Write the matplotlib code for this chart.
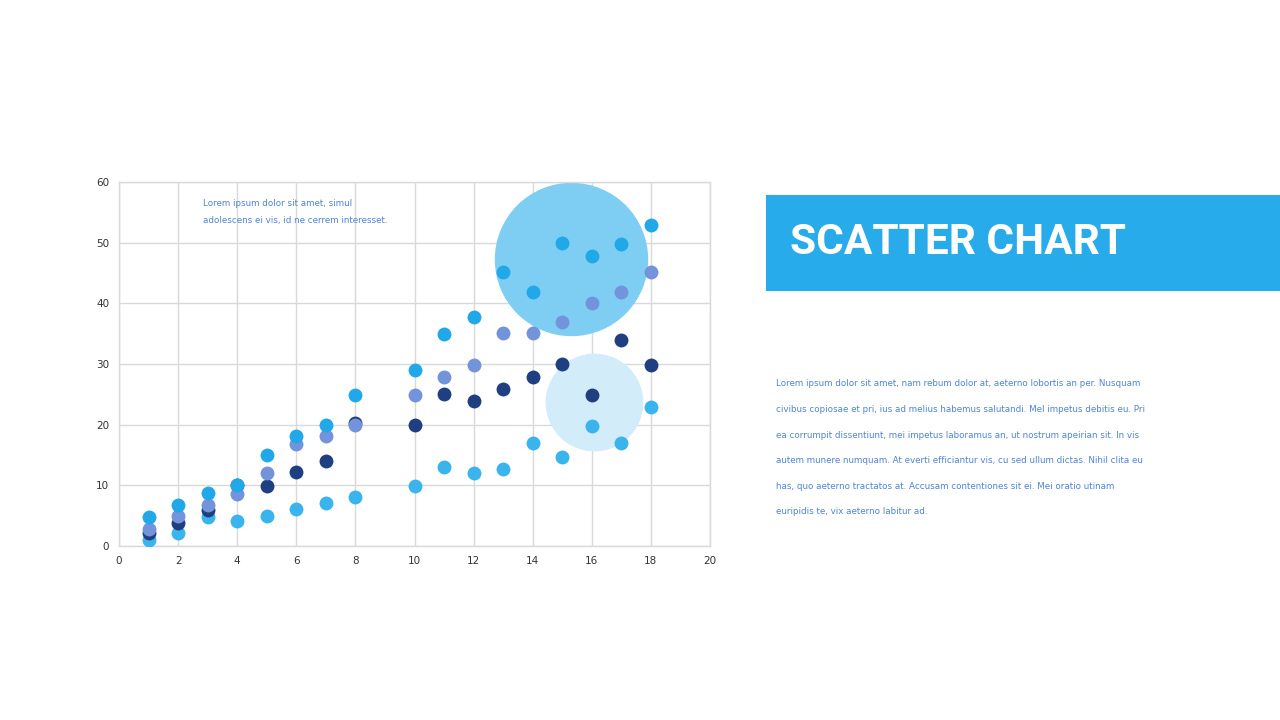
import matplotlib
matplotlib.use("Agg")
import matplotlib.pyplot as plt
from matplotlib.patches import Rectangle

# ---- data ----
xs = [1, 2, 3, 4, 5, 6, 7, 8, 10, 11, 12, 13, 14, 15, 16, 17, 18]
series_bright = [4.8, 6.8, 8.7, 10.0, 15.0, 18.1, 19.9, 24.9, 29.0, 34.9, 37.7, 45.2, 41.9, 49.9, 47.8, 49.8, 52.9]
series_light = [1.0, 2.1, 4.8, 4.1, 4.9, 6.1, 7.1, 8.1, 9.9, 13.0, 12.0, 12.7, 17.0, 14.7, 19.8, 17.0, 22.9]
series_navy = [2.1, 3.8, 5.9, 10.1, 9.9, 12.2, 14.0, 20.3, 19.9, 25.1, 23.9, 25.9, 27.9, 30.0, 24.9, 34.0, 29.8]
series_peri = [2.8, 4.9, 6.8, 8.6, 12.0, 16.8, 18.1, 19.9, 24.9, 27.9, 29.8, 35.1, 35.1, 36.9, 40.1, 41.9, 45.2]
bubble_x = [15.3, 16.07]
bubble_y = [47.3, 23.7]
bubble_size = [12200, 4950]

x_ticks = [0, 2, 4, 6, 8, 10, 12, 14, 16, 18, 20]
y_ticks = [0, 10, 20, 30, 40, 50, 60]

title = "SCATTER CHART"
note_lines = ["Lorem ipsum dolor sit amet, simul", "adolescens ei vis, id ne cerrem interesset."]
para_lines = [
    "Lorem ipsum dolor sit amet, nam rebum dolor at, aeterno lobortis an per. Nusquam",
    "civibus copiosae et pri, ius ad melius habemus salutandi. Mel impetus debitis eu. Pri",
    "ea corrumpit dissentiunt, mei impetus laboramus an, ut nostrum apeirian sit. In vis",
    "autem munere numquam. At everti efficiantur vis, cu sed ullum dictas. Nihil clita eu",
    "has, quo aeterno tractatos at. Accusam contentiones sit ei. Mei oratio utinam",
    "euripidis te, vix aeterno labitur ad.",
]

text_color = "#4F84D4"

fig = plt.figure(figsize=(12.8, 7.2), dpi=100)
fig.patch.set_facecolor("white")

ax = fig.add_axes([119/1280, 1-546/720, (710-119)/1280, (546-182)/720])
ax.set_xlim(0, 20)
ax.set_ylim(0, 60)
ax.set_xticks(x_ticks)
ax.set_yticks(y_ticks)
ax.grid(True, color="#D9D9D9", linewidth=1.0, zorder=0)
ax.set_axisbelow(True)
for s in ax.spines.values():
    s.set_color("#D9D9D9")
    s.set_linewidth(1.0)
ax.tick_params(length=0, labelsize=7.5, colors="#333333", pad=7)

ax.scatter(bubble_x[0], bubble_y[0], s=bubble_size[0], color="#7ECDF3", zorder=1, linewidths=0)
ax.scatter(bubble_x[1], bubble_y[1], s=bubble_size[1], color="#D3ECF9", zorder=1, linewidths=0)

ms = 100
ax.scatter(xs, series_light, s=ms, color="#3AB4EC", zorder=3, linewidths=0)
ax.scatter(xs, series_navy, s=ms, color="#1F3F80", zorder=4, linewidths=0)
ax.scatter(xs, series_peri, s=ms, color="#7393DA", zorder=5, linewidths=0)
ax.scatter(xs, series_bright, s=ms, color="#21A8E9", zorder=6, linewidths=0)

# note inside chart
for i, line in enumerate(note_lines):
    fig.text(203/1280, 1-(204+16*i)/720, line, fontsize=6.3, color=text_color,
             va="center", ha="left")

# banner
fig.patches.append(Rectangle((766/1280, 1-291/720), (1280-766)/1280, 96/720,
                             transform=fig.transFigure, facecolor="#27ABEA",
                             edgecolor="none", zorder=0))
fig.text(790/1280, 1-242/720, title, fontsize=30.5, fontweight="bold", color="white",
         va="center", ha="left", family="Roboto")

for i, line in enumerate(para_lines):
    fig.text(776/1280, 1-(384+25.6*i)/720, line, fontsize=6.3, color=text_color,
             va="center", ha="left")

fig.savefig("out.png", dpi=100)
